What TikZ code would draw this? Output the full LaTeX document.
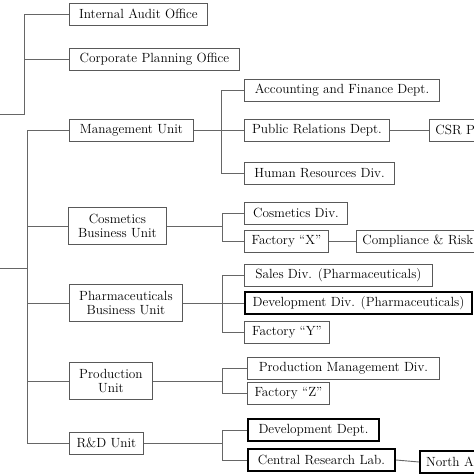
\documentclass[tikz,border=0pt]{standalone}
\begin{document}
\begin{tikzpicture}[x=1pt,y=-1pt,
  every node/.style={font=\fontsize{13.3}{14.5}\selectfont, text=black},
  box/.style={draw=black!65, line width=0.9pt, fill=white, inner sep=0pt, minimum height=22, anchor=west},
  tallbox/.style={box, minimum height=37, align=center},
  bold/.style={box, draw=black, line width=2pt},
  cut/.style={text width=#1, inner xsep=6pt, align=left},
  conn/.style={draw=black!60, line width=0.9pt}]
\useasboundingbox (0,0) rectangle (474,474);
\clip (0,0) rectangle (474,474);
% top offices
\node[box, minimum width=138] (iao) at (69,14) {Internal Audit Office};
\node[box, minimum width=170] (cpo) at (69,59) {Corporate Planning Office};
% units
\node[box, minimum width=124] (mu) at (69,130) {Management Unit};
\node[tallbox, minimum width=98] (cbu) at (68,226) {Cosmetics\\Business Unit};
\node[tallbox, minimum width=113] (pbu) at (69,303) {Pharmaceuticals\\Business Unit};
\node[tallbox, minimum width=83] (pu) at (69,381) {Production\\Unit};
\node[box, minimum width=74] (rd) at (69,443) {R\&D Unit};
% management
\node[box, minimum width=195] (af) at (244,90) {Accounting and Finance Dept.};
\node[box, minimum width=145] (pr) at (244,130) {Public Relations Dept.};
\node[box, cut=70] (csr) at (429,130) {CSR P};
\node[box, minimum width=150] (hr) at (244,173) {Human Resources Div.};
% cosmetics
\node[box, minimum width=103] (cd) at (244,213) {Cosmetics Div.};
\node[box, minimum width=84] (fx) at (244,241) {Factory ``X''};
\node[box, cut=130] (cr) at (356,241) {Compliance \& Risk};
% pharma
\node[box, minimum width=188] (sd) at (244,275) {Sales Div. (Pharmaceuticals)};
\node[bold, minimum width=227] (dd) at (244,303) {Development Div. (Pharmaceuticals)};
\node[box, minimum width=85] (fy) at (244,332) {Factory ``Y''};
% production
\node[box, minimum width=192] (pm) at (247,368) {Production Management Div.};
\node[box, minimum width=82] (fz) at (247,393) {Factory ``Z''};
% R&D
\node[bold, minimum width=131] (dep) at (247,430) {Development Dept.};
\node[bold, minimum width=147] (crl) at (247,460) {Central Research Lab.};
\node[bold, cut=70] (na) at (419,462) {North A};
% junction coordinates
\coordinate (l0) at (0,114);
\coordinate (j0) at (24,114);
\coordinate (l1) at (0,268);
\coordinate (sp) at (27,268);
\coordinate (b1) at (221,0);
\coordinate (b2) at (222,0);
% top bracket
\draw[conn] (l0) -- (j0) |- (iao.west);
\draw[conn] (j0 |- cpo.west) -- (cpo.west);
% main spine
\draw[conn] (l1) -- (sp);
\draw[conn] (mu.west) -- (mu.west -| sp) -- (rd.west -| sp) -- (rd.west);
\draw[conn] (cbu.west) -- (cbu.west -| sp);
\draw[conn] (pbu.west) -- (pbu.west -| sp);
\draw[conn] (pu.west) -- (pu.west -| sp);
% management bracket
\draw[conn] (mu.east) -- (pr.west);
\draw[conn] (af.west) -- (af.west -| b1) -- (hr.west -| b1) -- (hr.west);
\draw[conn] (pr.east) -- (csr.west);
% cosmetics bracket
\draw[conn] (cbu.east) -- (cbu.east -| b2);
\draw[conn] (cd.west) -- (cd.west -| b2) -- (fx.west -| b2) -- (fx.west);
\draw[conn] (fx.east) -- (cr.west);
% pharma bracket
\draw[conn] (pbu.east) -- (dd.west);
\draw[conn] (sd.west) -- (sd.west -| b2) -- (fy.west -| b2) -- (fy.west);
% production bracket
\draw[conn] (pu.east) -- (pu.east -| b2);
\draw[conn] (pm.west) -- (pm.west -| b2) -- (fz.west -| b2) -- (fz.west);
% R&D bracket
\draw[conn] (rd.east) -- (rd.east -| b2);
\draw[conn] (dep.west) -- (dep.west -| b2) -- (crl.west -| b2) -- (crl.west);
\draw[conn] (crl.east) -- (na.west);
\end{tikzpicture}
\end{document}
